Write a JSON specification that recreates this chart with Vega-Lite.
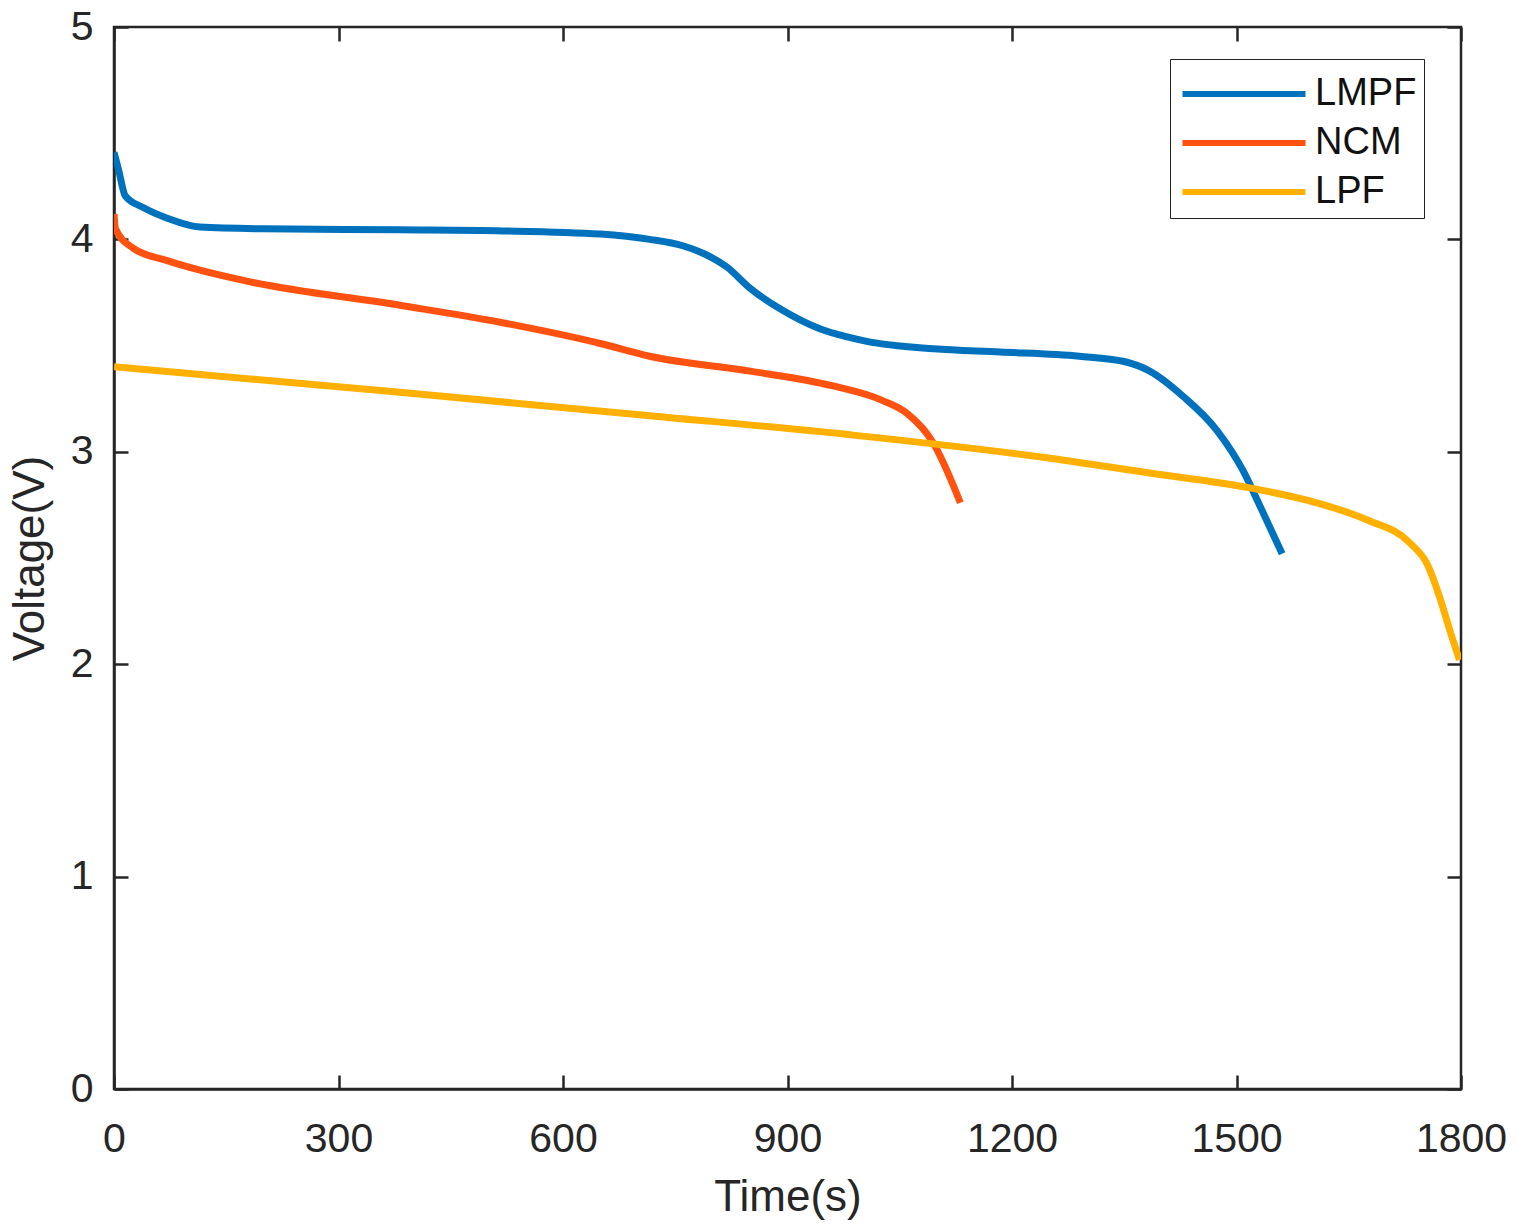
{
  "$schema": "https://vega.github.io/schema/vega-lite/v6.json",
  "width": 1347,
  "height": 1062,
  "autosize": {"type": "none"},
  "padding": {"left": 114, "top": 27, "right": 56, "bottom": 139},
  "background": "white",
  "data": {
    "values": [
      {"series": "LMPF", "t": 0, "v": 4.41},
      {"series": "LMPF", "t": 6, "v": 4.33},
      {"series": "LMPF", "t": 15, "v": 4.205},
      {"series": "LMPF", "t": 39, "v": 4.15},
      {"series": "LMPF", "t": 71, "v": 4.1},
      {"series": "LMPF", "t": 115, "v": 4.058},
      {"series": "LMPF", "t": 200, "v": 4.05},
      {"series": "LMPF", "t": 382, "v": 4.045},
      {"series": "LMPF", "t": 520, "v": 4.04},
      {"series": "LMPF", "t": 650, "v": 4.025},
      {"series": "LMPF", "t": 716, "v": 4.0},
      {"series": "LMPF", "t": 760, "v": 3.97},
      {"series": "LMPF", "t": 790, "v": 3.93},
      {"series": "LMPF", "t": 819, "v": 3.87},
      {"series": "LMPF", "t": 850, "v": 3.77},
      {"series": "LMPF", "t": 894, "v": 3.665},
      {"series": "LMPF", "t": 939, "v": 3.585},
      {"series": "LMPF", "t": 1006, "v": 3.52},
      {"series": "LMPF", "t": 1095, "v": 3.485},
      {"series": "LMPF", "t": 1184, "v": 3.47},
      {"series": "LMPF", "t": 1290, "v": 3.45},
      {"series": "LMPF", "t": 1350, "v": 3.425},
      {"series": "LMPF", "t": 1384, "v": 3.38},
      {"series": "LMPF", "t": 1429, "v": 3.26},
      {"series": "LMPF", "t": 1474, "v": 3.1},
      {"series": "LMPF", "t": 1509, "v": 2.91},
      {"series": "LMPF", "t": 1532, "v": 2.74},
      {"series": "LMPF", "t": 1561, "v": 2.52},
      {"series": "NCM", "t": 0, "v": 4.12},
      {"series": "NCM", "t": 2, "v": 4.05},
      {"series": "NCM", "t": 25, "v": 3.96},
      {"series": "NCM", "t": 71, "v": 3.9},
      {"series": "NCM", "t": 115, "v": 3.855},
      {"series": "NCM", "t": 182, "v": 3.8},
      {"series": "NCM", "t": 382, "v": 3.69},
      {"series": "NCM", "t": 516, "v": 3.61},
      {"series": "NCM", "t": 650, "v": 3.51},
      {"series": "NCM", "t": 716, "v": 3.45},
      {"series": "NCM", "t": 850, "v": 3.38},
      {"series": "NCM", "t": 961, "v": 3.31},
      {"series": "NCM", "t": 1028, "v": 3.24},
      {"series": "NCM", "t": 1060, "v": 3.18},
      {"series": "NCM", "t": 1095, "v": 3.04},
      {"series": "NCM", "t": 1117, "v": 2.88},
      {"series": "NCM", "t": 1131, "v": 2.76},
      {"series": "LPF", "t": 0, "v": 3.4},
      {"series": "LPF", "t": 382, "v": 3.28},
      {"series": "LPF", "t": 716, "v": 3.17},
      {"series": "LPF", "t": 984, "v": 3.08},
      {"series": "LPF", "t": 1251, "v": 2.97},
      {"series": "LPF", "t": 1384, "v": 2.9},
      {"series": "LPF", "t": 1518, "v": 2.83},
      {"series": "LPF", "t": 1607, "v": 2.76},
      {"series": "LPF", "t": 1674, "v": 2.68},
      {"series": "LPF", "t": 1732, "v": 2.57},
      {"series": "LPF", "t": 1755, "v": 2.47},
      {"series": "LPF", "t": 1772, "v": 2.31},
      {"series": "LPF", "t": 1785, "v": 2.16},
      {"series": "LPF", "t": 1798, "v": 2.02}
    ]
  },
  "encoding": {
    "x": {
      "field": "t",
      "type": "quantitative",
      "scale": {"domain": [0, 1800], "nice": false}
    },
    "y": {
      "field": "v",
      "type": "quantitative",
      "scale": {"domain": [0, 5], "nice": false}
    }
  },
  "layer": [
    {
      "mark": {"type": "line", "strokeWidth": 7, "interpolate": "monotone", "clip": true},
      "encoding": {
        "x": {
          "field": "t",
          "type": "quantitative",
          "axis": {
            "orient": "bottom",
            "title": "Time(s)",
            "values": [0, 300, 600, 900, 1200, 1500, 1800],
            "format": "d",
            "labelFlush": false,
            "tickSize": -14,
            "labelPadding": 44,
            "titlePadding": 16
          }
        },
        "y": {
          "field": "v",
          "type": "quantitative",
          "axis": {
            "orient": "left",
            "title": "Voltage(V)",
            "values": [0, 1, 2, 3, 4, 5],
            "format": "d",
            "labelFlush": false,
            "tickSize": -14,
            "labelPadding": 35,
            "titlePadding": 18
          }
        },
        "color": {
          "field": "series",
          "type": "nominal",
          "sort": null,
          "scale": {
            "domain": ["LMPF", "NCM", "LPF"],
            "range": ["#0072BD", "#FF5210", "#FFB000"]
          },
          "legend": {
            "title": null,
            "orient": "none",
            "legendX": 1056,
            "legendY": 32,
            "symbolType": "M-2.46,0H2.46",
            "symbolSize": 2500,
            "symbolOffset": 39,
            "symbolStrokeWidth": 6,
            "labelFontSize": 38,
            "labelOffset": 43,
            "padding": 7,
            "strokeColor": "#222222",
            "fillColor": "white"
          }
        }
      }
    },
    {
      "mark": {"type": "line", "opacity": 0},
      "encoding": {
        "x": {
          "field": "t",
          "type": "quantitative",
          "axis": {
            "orient": "top",
            "title": null,
            "labels": false,
            "domain": false,
            "values": [0, 300, 600, 900, 1200, 1500, 1800],
            "tickSize": -14
          }
        },
        "y": {
          "field": "v",
          "type": "quantitative",
          "axis": {
            "orient": "right",
            "title": null,
            "labels": false,
            "domain": false,
            "values": [0, 1, 2, 3, 4, 5],
            "tickSize": -14
          }
        },
        "detail": {"field": "series"}
      }
    }
  ],
  "resolve": {"axis": {"x": "independent", "y": "independent"}},
  "config": {
    "font": "Liberation Sans",
    "view": {"stroke": "#262626", "strokeWidth": 2.5},
    "axis": {
      "grid": false,
      "domainColor": "#262626",
      "domainWidth": 2.5,
      "tickColor": "#262626",
      "tickWidth": 2.5,
      "labelFont": "Liberation Sans",
      "labelFontSize": 41,
      "labelColor": "#262626",
      "titleFont": "Liberation Sans",
      "titleFontSize": 44,
      "titleFontWeight": "normal",
      "titleColor": "#262626"
    },
    "legend": {"labelFont": "Liberation Sans", "labelColor": "#111111"}
  }
}
